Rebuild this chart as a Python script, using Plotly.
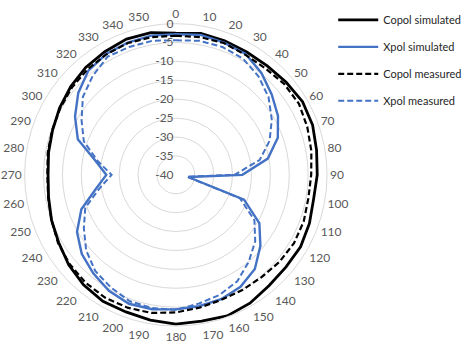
import plotly.graph_objects as go

angles = list(range(0, 360, 10))

copol_sim = [-2.5, -2.0, -2.3, -2.5, -2.4, -1.9, -1.3, -1.5, -2.2, -2.6,
             -3.0, -2.4, -1.9, -2.0, -1.7, -0.8, -0.3, -0.7, -0.5, -1.0,
             -1.4, -1.4, -2.0, -3.0, -4.2, -5.0, -5.8, -6.2, -5.8, -5.3,
             -4.5, -3.7, -2.9, -2.4, -1.8, -1.8]

xpol_sim = [-2.8, -2.4, -2.8, -3.1, -4.8, -6.9, -8.8, -11.3, -15.3, -22.4,
            -36.7, -20.8, -14.5, -10.8, -7.5, -5.8, -5.0, -4.7, -4.4, -3.9,
            -3.7, -4.6, -6.0, -7.5, -9.8, -13.4, -18.5, -21.6, -18.4, -12.4,
            -9.2, -6.3, -4.0, -3.1, -2.8, -2.6]

copol_meas = [-3.2, -3.0, -2.9, -3.3, -3.2, -2.6, -2.4, -3.0, -3.6, -4.2,
              -4.4, -4.0, -3.9, -4.2, -4.7, -4.8, -4.8, -4.3, -3.6, -2.9,
              -2.6, -2.5, -2.8, -3.3, -4.0, -5.0, -5.7, -6.0, -5.6, -5.2,
              -4.7, -4.1, -3.6, -3.2, -2.9, -3.0]

xpol_meas = [-4.4, -4.0, -4.0, -4.5, -6.0, -8.0, -10.7, -13.6, -17.5, -24.5,
             -37.0, -22.0, -16.0, -12.6, -10.0, -7.5, -6.2, -5.4, -4.3, -4.2,
             -4.4, -5.6, -6.8, -9.0, -11.9, -14.5, -19.5, -23.0, -19.0, -14.1,
             -11.2, -7.9, -5.8, -3.9, -4.0, -4.0]

series_names = ["Copol simulated", "Xpol simulated", "Copol measured", "Xpol measured"]
radial_ticks = list(range(-40, 1, 5))

BLUE = "#4472C4"
styles = [
    dict(color="#000000", width=2.8, dash="solid"),
    dict(color=BLUE, width=2.4, dash="solid"),
    dict(color="#000000", width=2.2, dash="6px,3px"),
    dict(color=BLUE, width=2.0, dash="6px,3px"),
]

def closed(vals):
    return vals + vals[:1]

theta_closed = closed(angles)

fig = go.Figure()
for name, vals, st in zip(series_names, [copol_sim, xpol_sim, copol_meas, xpol_meas], styles):
    fig.add_trace(go.Scatterpolar(
        r=closed(vals), theta=theta_closed, mode="lines", name=name,
        legendgroup=name, line=st,
    ))

FONT = "Lato"
fig.update_layout(
    width=474, height=355,
    margin=dict(l=0, r=0, t=0, b=0, autoexpand=False),
    paper_bgcolor="white",
    font=dict(family=FONT, size=12, color="#595959"),
    polar=dict(
        domain=dict(x=[0.052, 0.690], y=[0.079, 0.936]),
        bgcolor="white",
        angularaxis=dict(
            rotation=90, direction="clockwise",
            tickmode="array", tickvals=angles, ticktext=[str(a) for a in angles],
            showgrid=False, showline=True, linecolor="#d9d9d9", linewidth=1,
            ticks="", tickfont=dict(size=12, color="#595959"),
        ),
        radialaxis=dict(
            range=[-40, 0], angle=90, side="counterclockwise",
            tickmode="array", tickvals=radial_ticks, ticktext=[str(t) for t in radial_ticks],
            showline=False, gridcolor="#d9d9d9", gridwidth=1, ticks="",
            tickfont=dict(size=12, color="#595959"), tickangle=90,
        ),
    ),
    showlegend=True,
    legend=dict(
        x=0.703, y=0.985, xanchor="left", yanchor="top",
        font=dict(size=11, color="#262626"),
        tracegroupgap=8, bgcolor="rgba(0,0,0,0)", itemwidth=40,
    ),
)

fig.write_html(
    "out.html",
    config={"displayModeBar": False},
    post_script="document.body.style.margin='0';document.body.style.padding='0';",
)
